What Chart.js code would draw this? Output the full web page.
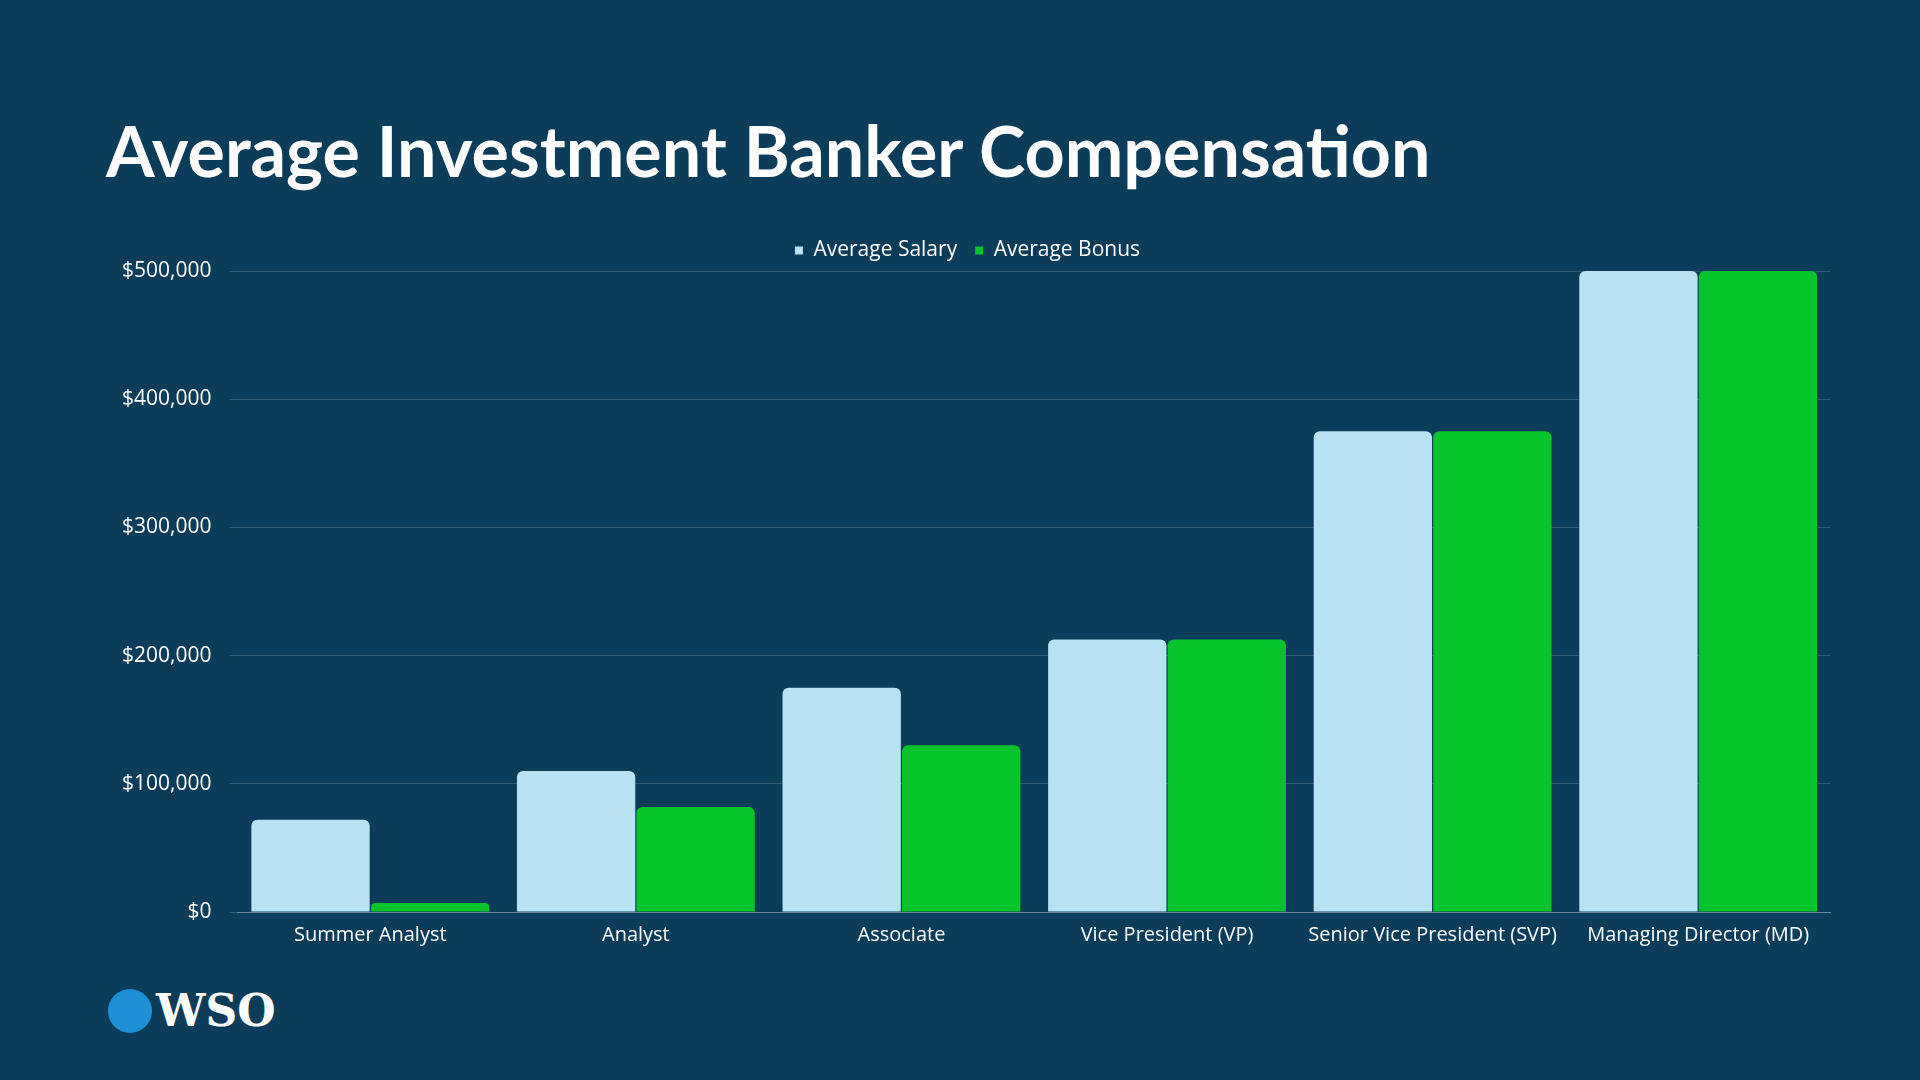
<!DOCTYPE html>
<html><head><meta charset="utf-8">
<script src="https://cdn.jsdelivr.net/npm/chart.js@4/dist/chart.umd.min.js"></script>
<style>
html,body{margin:0;padding:0;width:1920px;height:1080px;background:#0b3d5a;overflow:hidden;font-family:Lato,sans-serif;}
#title{position:absolute;left:106px;top:108px;color:#fff;font-size:70px;font-weight:700;font-family:Lato,sans-serif;}
#wrap{position:absolute;left:104px;top:222px;width:1727px;height:728px;}
#logo{position:absolute;left:108px;top:985px;display:flex;align-items:center;color:#fff;font-family:"DejaVu Serif",serif;font-weight:700;font-size:44px;}
#logo .c{width:44px;height:44px;border-radius:50%;background:#1d8fd6;margin-right:4px;}
</style></head><body>
<div id="title">Average Investment Banker Compensation</div>
<div id="wrap"><canvas id="c"></canvas></div>
<div id="logo"><div class="c"></div>WSO</div>
<script>
const categories=["Summer Analyst","Analyst","Associate","Vice President (VP)","Senior Vice President (SVP)","Managing Director (MD)"];
const salary=[72000,110000,175000,212500,375000,500000];
const bonus=[7000,82000,130000,212500,375000,500000];
new Chart(document.getElementById('c'),{
type:'bar',
data:{labels:categories,datasets:[
{label:'Average Salary',data:salary,backgroundColor:'#b8e1f2',borderRadius:{topLeft:6,topRight:6},borderSkipped:'bottom'},
{label:'Average Bonus',data:bonus,backgroundColor:'#07c42c',borderRadius:{topLeft:6,topRight:6},borderSkipped:'bottom'}]},
options:{responsive:true,maintainAspectRatio:false,animation:false,
datasets:{bar:{barPercentage:0.99,categoryPercentage:0.9}},
plugins:{legend:{position:'top',labels:{color:'#fff',font:{family:'Open Sans',size:21},boxWidth:8,boxHeight:8,padding:18}},tooltip:{enabled:false}},
scales:{
x:{grid:{display:false},border:{color:'rgba(255,255,255,0.3)'},ticks:{color:'#fff',maxRotation:0,minRotation:0,autoSkip:false,font:{family:'Open Sans',size:20}}},
y:{min:0,max:500000,ticks:{stepSize:100000,color:'#fff',padding:18,font:{family:'Open Sans',size:21},callback:v=>'$'+v.toLocaleString('en-US')},grid:{color:'rgba(255,255,255,0.15)'},border:{display:false}}
}}});
</script></body></html>
